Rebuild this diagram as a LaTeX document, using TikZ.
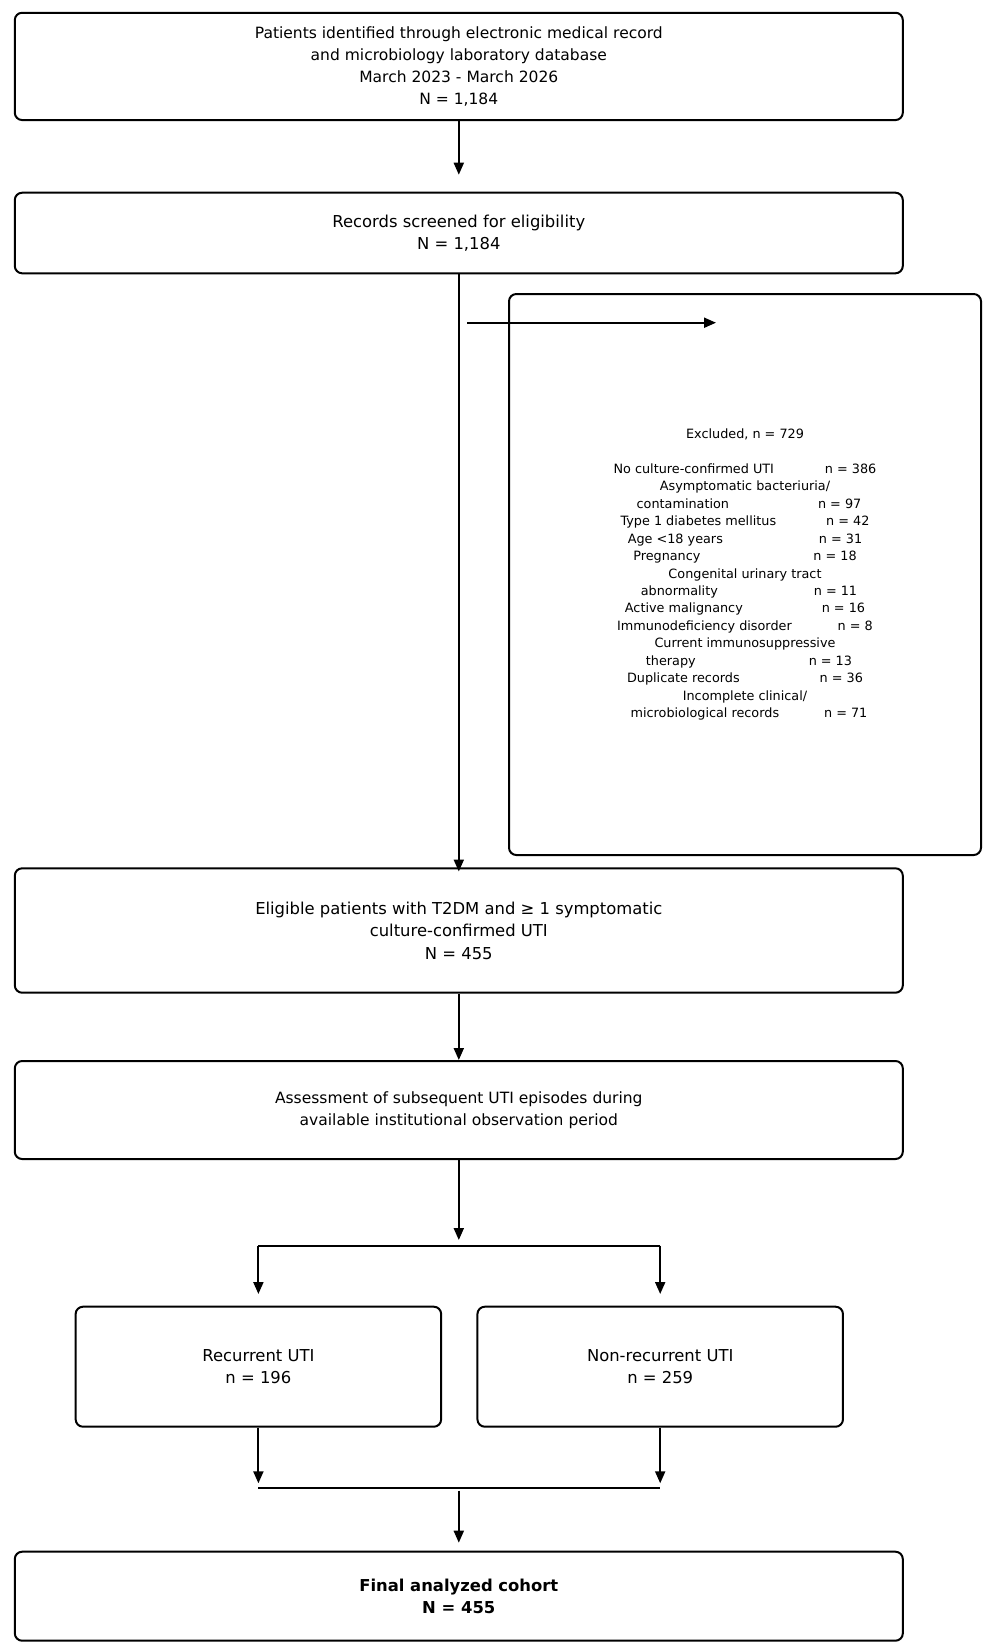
\documentclass[tikz,border=0pt]{standalone}
\usepackage{fontspec}
\setmainfont{DejaVu Sans}
\usetikzlibrary{arrows.meta}
\newlength\pxu
\setlength\pxu{0.75pt}
\newcommand\gp[1]{\hspace*{#1\pxu}}
\begin{document}
\begin{tikzpicture}[x=0.75pt,y=-0.75pt,
  box/.style={draw=black,line width=1.5pt,rounded corners=5.5pt,align=center,inner sep=0pt,
    font=\fontsize{12.3}{16.9}\selectfont},
  smallfont/.style={font=\fontsize{11.64}{16.4}\selectfont},
  arr/.style={line width=1.5pt,-{Triangle[length=9pt,width=7.5pt]}},
  ln/.style={line width=1.5pt}]
\useasboundingbox (0,0) rectangle (986,1647);
\node[box,smallfont,minimum width=888*0.75pt,minimum height=107.3*0.75pt] (b1) at (458.8,66.4)
  {Patients identified through electronic medical record\\and microbiology laboratory database\\March 2023 - March 2026\\N = 1,184};
\node[box,minimum width=888*0.75pt,minimum height=80.6*0.75pt] (b2) at (458.8,233)
  {Records screened for eligibility\\N = 1,184};
\node[box,minimum width=472*0.75pt,minimum height=561*0.75pt,font=\fontsize{9.6}{13.1}\selectfont] (ex) at (745,574.5)
  {Excluded, n = 729\\[13.1pt]
   No culture-confirmed UTI\gp{51}n = 386\\
   Asymptomatic bacteriuria/\\
   \gp{8}contamination\gp{89}n = 97\\
   Type 1 diabetes mellitus\gp{50}n = 42\\
   Age <18 years\gp{96}n = 31\\
   Pregnancy\gp{113}n = 18\\
   Congenital urinary tract\\
   \gp{8}abnormality\gp{96}n = 11\\
   Active malignancy\gp{79}n = 16\\
   Immunodeficiency disorder\gp{46}n = 8\\
   Current immunosuppressive\\
   \gp{8}therapy\gp{113}n = 13\\
   Duplicate records\gp{80}n = 36\\
   Incomplete clinical/\\
   \gp{8}microbiological records\gp{45}n = 71};
\node[box,minimum width=888*0.75pt,minimum height=124.4*0.75pt] (b3) at (458.8,930.5)
  {Eligible patients with T2DM and ≥ 1 symptomatic\\culture-confirmed UTI\\N = 455};
\node[box,smallfont,minimum width=888*0.75pt,minimum height=98*0.75pt] (b4) at (458.8,1110)
  {Assessment of subsequent UTI episodes during\\available institutional observation period};
\node[box,minimum width=365.5*0.75pt,minimum height=120*0.75pt] (rl) at (258.4,1366.7)
  {Recurrent UTI\\n = 196};
\node[box,minimum width=365.5*0.75pt,minimum height=120*0.75pt] (rr) at (660.2,1366.7)
  {Non-recurrent UTI\\n = 259};
\node[box,minimum width=888*0.75pt,minimum height=89*0.75pt,font=\fontsize{12.3}{16.9}\selectfont\bfseries] (fin) at (458.8,1596.2)
  {Final analyzed cohort\\N = 455};
% coordinates
\coordinate (t1) at (458.8,174.7);
\coordinate (t3) at (458.8,871.5);
\coordinate (e1) at (467,322.7);
\coordinate (e2) at (716,322.7);
\coordinate (t4) at (458.8,1240);
\coordinate (sl) at (258.4,1245.7);
\coordinate (sr) at (660.2,1245.7);
\coordinate (al) at (258.4,1294);
\coordinate (ar) at (660.2,1294);
\coordinate (ml) at (258.4,1483.3);
\coordinate (mr) at (660.2,1483.3);
\coordinate (hl) at (258.4,1488.3);
\coordinate (hr) at (660.2,1488.3);
\coordinate (m0) at (458.8,1490.7);
\coordinate (t5) at (458.8,1542.7);
% connectors
\draw[arr] (b1.south) -- (t1);
\draw[arr] (b2.south) -- (t3);
\draw[arr] (e1) -- (e2);
\draw[arr] (b3.south) -- (b4.north);
\draw[arr] (b4.south) -- (t4);
\draw[ln] (sl) -- (sr);
\draw[arr] (sl) -- (al);
\draw[arr] (sr) -- (ar);
\draw[arr] (rl.south) -- (ml);
\draw[arr] (rr.south) -- (mr);
\draw[ln] (hl) -- (hr);
\draw[arr] (m0) -- (t5);
\end{tikzpicture}
\end{document}
